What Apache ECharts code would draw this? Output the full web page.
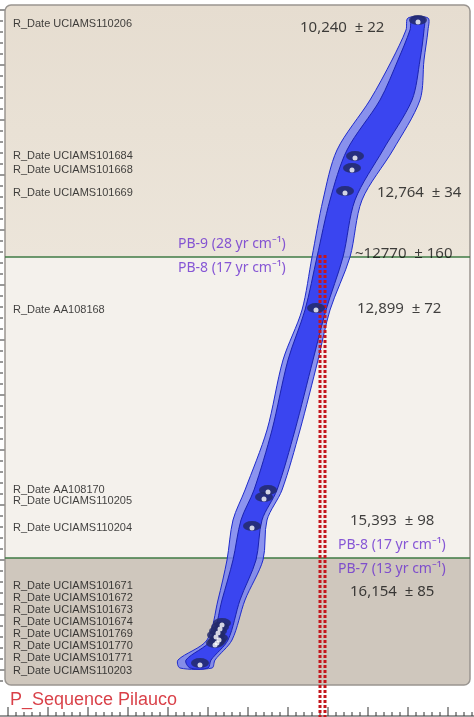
<!DOCTYPE html>
<html><head><meta charset="utf-8">
<script src="https://cdn.jsdelivr.net/npm/echarts@6/dist/echarts.min.js"></script>
<style>html,body{margin:0;padding:0;background:#fff}#c{width:474px;height:717px}</style>
</head><body><div id="c"></div>
<script>
// Dates (sample names, plotted age position, depth position)
const sampleNames = ['R_Date UCIAMS110206','R_Date UCIAMS101684','R_Date UCIAMS101668','R_Date UCIAMS101669','R_Date AA108168','R_Date AA108170','R_Date UCIAMS110205','R_Date UCIAMS110204','R_Date UCIAMS101671','R_Date UCIAMS101672','R_Date UCIAMS101673','R_Date UCIAMS101674','R_Date UCIAMS101769','R_Date UCIAMS101770','R_Date UCIAMS101771','R_Date UCIAMS110203'];
const labelDepth = [24,156,170,193,310,490,501,528,586,598,610,622,634,646,658,671];
const dateAge = [418,355,352,345,316,268,264,252,222,220,218,216,219,217,215,200];
const dateDepth = [22,158,170,193,310,492,499,528,625,629,633,637,640,643,645,665];
// Age–depth band: depth stations with outer/inner envelope edges
const bandDepth   = [18, 30, 60, 100,150,200,257,310,360,430,490,520,560,600,640,660,668];
const outerLeft   = [408,406,392,370,337,323,312,302,283,267,245,233,227,218,207,178,180];
const outerRight  = [428,428,424,420,393,362,350,330,318,300,282,267,263,245,232,215,212];
const innerLeft   = [412,410,398,380,347,330,317,305,288,272,254,241,233,222,211,186,190];
const innerRight  = [424,424,420,412,383,355,343,326,313,295,277,262,256,240,228,211,208];
// Annotations
const ageTexts = ['10,240  ± 22','12,764  ± 34','~12770  ± 160','12,899  ± 72','15,393  ± 98','16,154  ± 85'];
const ageTextPos = [[300,28],[377,193],[355,254],[357,309],[350,521],[350,592]];
const phaseTexts = ['PB-9 (28 yr cm⁻¹)','PB-8 (17 yr cm⁻¹)','PB-8 (17 yr cm⁻¹)','PB-7 (13 yr cm⁻¹)'];
const phaseTextPos = [[178,244],[178,268],[338,545],[338,569]];
const boundaryDepth = [257,558];

function poly(L,R){const p=[];for(let i=0;i<bandDepth.length;i++)p.push([L[i],bandDepth[i]]);for(let i=bandDepth.length-1;i>=0;i--)p.push([R[i],bandDepth[i]]);return p;}
const chart = echarts.init(document.getElementById('c'));
function polySeries(pts, fill, stroke, z){
  return {type:'custom',coordinateSystem:'cartesian2d',z:z,data:[0],silent:true,
    renderItem:(p,api)=>({type:'polygon',shape:{points:pts.map(q=>api.coord(q)),smooth:0.3},style:{fill:fill,stroke:stroke,lineWidth:1}})};
}
const series = [
  {type:'custom',coordinateSystem:'cartesian2d',z:1,data:[0],silent:true,renderItem:(p,api)=>{
    const a=api.coord([5,5]), b=api.coord([470,boundaryDepth[0]]), c=api.coord([470,boundaryDepth[1]]), d=api.coord([470,685]);
    return {type:'group',children:[
      {type:'rect',shape:{x:a[0],y:a[1],width:b[0]-a[0],height:b[1]-a[1],r:[6,6,0,0]},style:{fill:new echarts.graphic.LinearGradient(0,0,0,1,[{offset:0,color:'#e6ddd0'},{offset:1,color:'#ece5da'}])}},
      {type:'rect',shape:{x:a[0],y:b[1],width:b[0]-a[0],height:c[1]-b[1]},style:{fill:'#f4f1ec'}},
      {type:'rect',shape:{x:a[0],y:c[1],width:b[0]-a[0],height:d[1]-c[1],r:[0,0,6,6]},style:{fill:'#cfc7bd'}},
      {type:'rect',shape:{x:a[0],y:a[1],width:b[0]-a[0],height:d[1]-a[1],r:6},style:{fill:'none',stroke:'#9a9590',lineWidth:1.5}},
      {type:'line',shape:{x1:a[0],y1:b[1],x2:b[0],y2:b[1]},style:{stroke:'#3f7a45',lineWidth:1.5}},
      {type:'line',shape:{x1:a[0],y1:c[1],x2:b[0],y2:c[1]},style:{stroke:'#3f7a45',lineWidth:1.5}}
    ]};}},
  polySeries(poly(outerLeft,outerRight),'rgba(120,130,240,0.85)','#1f2ccc',3),
  polySeries(poly(innerLeft,innerRight),'#3a45f0','#1a22b0',4),
  {type:'line',z:5,symbol:'none',data:[[320,255],[320,717]],lineStyle:{color:'#c4161c',width:3,type:[3,2]}},
  {type:'line',z:5,symbol:'none',data:[[325,255],[325,717]],lineStyle:{color:'#c4161c',width:3,type:[3,2]}},
  {type:'scatter',z:6,data:dateAge.map((a,i)=>[a,dateDepth[i]-2]),symbol:'circle',symbolSize:[18,10],itemStyle:{color:'#232a6a',opacity:0.85}},
  {type:'scatter',z:7,data:dateAge.map((a,i)=>[a,dateDepth[i]]),symbolSize:5,itemStyle:{color:'#fff'}},
  {type:'scatter',z:8,symbolSize:0,data:labelDepth.map((d,i)=>({value:[13,d],label:{formatter:sampleNames[i]}})),
    label:{show:true,position:'right',distance:0,color:'#111',fontSize:11,fontFamily:'Liberation Sans'}},
  {type:'scatter',z:8,symbolSize:0,data:ageTexts.map((t,i)=>({value:ageTextPos[i],label:{formatter:t}})),
    label:{show:true,position:'right',distance:0,color:'#111',fontSize:15,fontFamily:'Noto Sans'}},
  {type:'scatter',z:8,symbolSize:0,data:phaseTexts.map((t,i)=>({value:phaseTextPos[i],label:{formatter:t}})),
    label:{show:true,position:'right',distance:0,color:'#6a2fd0',fontSize:14,fontFamily:'Noto Sans'}},
  {type:'scatter',z:8,symbolSize:0,data:[{value:[10,700],label:{formatter:'P_Sequence Pilauco'}}],
    label:{show:true,position:'right',distance:0,color:'#d0101a',fontSize:18,fontFamily:'Liberation Sans'}}
];
chart.setOption({animation:false,
  grid:{left:0,right:0,top:0,bottom:0},
  xAxis:{type:'value',min:0,max:474,show:false},
  yAxis:{type:'value',min:0,max:717,inverse:true,show:false},
  graphic:[
    ...Array.from({length:62},(_,i)=>({type:'line',shape:{x1:0,y1:10+i*11,x2:i%5===0?6:3,y2:10+i*11},style:{stroke:'#333'}})),
    {type:'line',shape:{x1:0,y1:716,x2:474,y2:716},style:{stroke:'#333'}},
    ...Array.from({length:60},(_,i)=>({type:'line',shape:{x1:8+i*8,y1:716,x2:8+i*8,y2:i%5===0?707:712},style:{stroke:'#333'}}))
  ],
  series:series});
</script></body></html>
